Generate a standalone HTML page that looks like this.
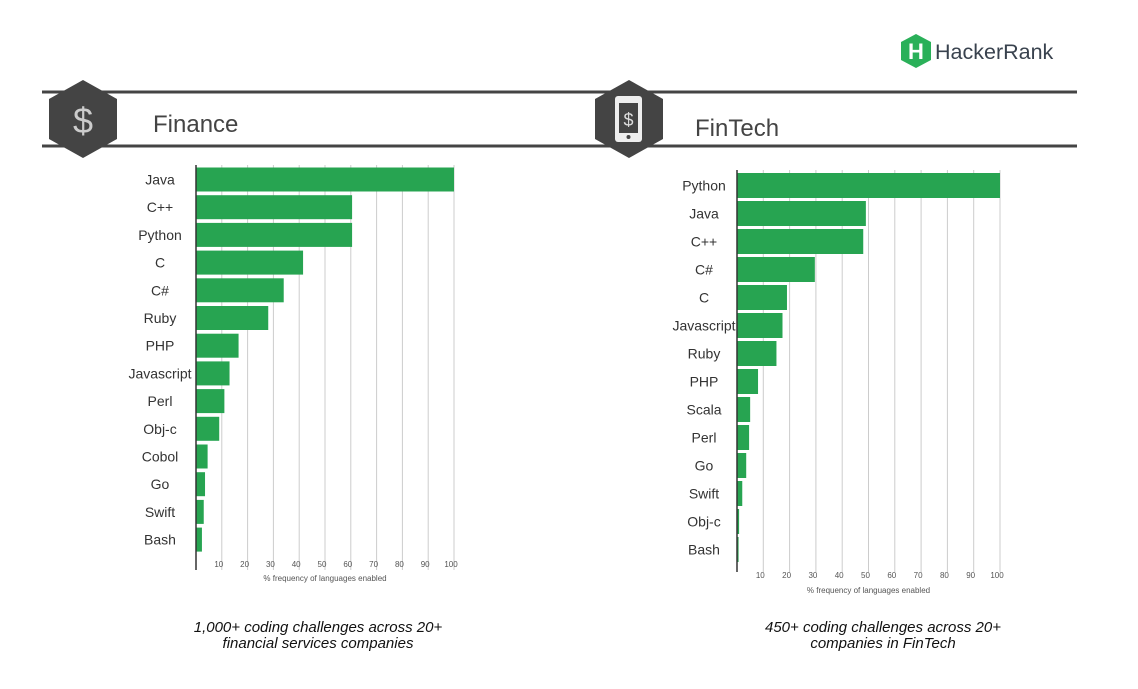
<!DOCTYPE html>
<html><head><meta charset="utf-8"><style>
html,body{margin:0;padding:0;background:#fff;}
svg{display:block;font-family:"Liberation Sans",sans-serif;}
</style></head><body>
<svg id="s" width="1138" height="689" viewBox="0 0 1138 689">
<g>
 <polygon points="916,34 931,42 931,60 916,68 901,60 901,42" fill="#2ab059"/>
 <text x="916" y="59" text-anchor="middle" font-size="22" font-weight="bold" fill="#fff">H</text>
 <text x="935" y="59" font-size="21.5" fill="#39424e">HackerRank</text>
</g>
<line x1="42" y1="92" x2="1077" y2="92" stroke="#444" stroke-width="3"/>
<line x1="42" y1="146" x2="1077" y2="146" stroke="#444" stroke-width="3"/>
<g>
 <polygon points="83,80 117,99 117,139 83,158 49,139 49,99" fill="#444"/>
 <text x="83" y="133" text-anchor="middle" font-size="36" fill="#ccc">$</text>
</g>
<text x="153" y="132" font-size="24" fill="#444">Finance</text>
<g>
 <polygon points="629,80 663,99 663,139 629,158 595,139 595,99" fill="#444"/>
 <rect x="615" y="96" width="27" height="46" rx="3" fill="#eee"/>
 <rect x="619" y="103" width="19" height="30" fill="#444"/>
 <circle cx="628.5" cy="137" r="2" fill="#444"/>
 <text x="628.5" y="126" text-anchor="middle" font-size="18" fill="#ddd">$</text>
</g>
<text x="695" y="136" font-size="24" fill="#444">FinTech</text>
<g id="c1"></g><g id="c2"></g>
<text x="318" y="632" text-anchor="middle" font-size="15" font-style="italic" fill="#111">1,000+ coding challenges across 20+</text>
<text x="318" y="648" text-anchor="middle" font-size="15" font-style="italic" fill="#111">financial services companies</text>
<text x="883" y="632" text-anchor="middle" font-size="15" font-style="italic" fill="#111">450+ coding  challenges across 20+</text>
<text x="883" y="648" text-anchor="middle" font-size="15" font-style="italic" fill="#111">companies in FinTech</text>
</svg>
<script>
const finCats=["Java","C++","Python","C","C#","Ruby","PHP","Javascript","Perl","Obj-c","Cobol","Go","Swift","Bash"];
const finVals=[100,60.5,60.5,41.5,34,28,16.5,13,11,9,4.5,3.5,3,2.3];
const ftCats=["Python","Java","C++","C#","C","Javascript","Ruby","PHP","Scala","Perl","Go","Swift","Obj-c","Bash"];
const ftVals=[100,49,48,29.6,19,17.3,15,8,5,4.6,3.5,2,0.8,0.6];
const tickVals=[10,20,30,40,50,60,70,80,90,100];
const NS="http://www.w3.org/2000/svg";
function mk(p,t,a){const e=document.createElementNS(NS,t);for(const k in a)e.setAttribute(k,a[k]);p.appendChild(e);return e;}
function chart(g,cats,vals,o){
 const x=v=>o.x0+v*(o.x100-o.x0)/100;
 const y=i=>o.y0+i*o.step;
 tickVals.forEach(t=>{
  const l=mk(g,"line",{x1:x(t),x2:x(t),y1:o.gTop,y2:o.gBot,stroke:"#ccc","stroke-width":1});
  
  
  const tx=mk(g,"text",{x:x(t)-3,y:o.tickY,"text-anchor":"middle","font-size":8,fill:"#555"});tx.textContent=t;
  
  
 });
 cats.forEach((c,i)=>{
  const r=mk(g,"rect",{x:o.x0,y:y(i)-o.bh/2,width:x(vals[i])-o.x0,height:o.bh,fill:"#27a451"});
  
  
  const t=mk(g,"text",{x:o.lx,y:y(i)+5,"text-anchor":"middle","font-size":14,fill:"#333"});t.textContent=c;
  
  
 });
 const a=mk(g,"line",{x1:o.x0,x2:o.x0,y1:o.gTop,y2:o.gBot,stroke:"#333","stroke-width":1.5});
 
 
 const at=mk(g,"text",{x:(o.x0+o.x100)/2,y:o.titleY,"text-anchor":"middle","font-size":8,fill:"#555"});at.textContent="% frequency of languages enabled";
 
 
}
chart(document.getElementById("c1"),finCats,finVals,{x0:196,x100:454,y0:179.5,step:27.7,bh:24,gTop:165,gBot:570,tickY:567,titleY:581,lx:160});
chart(document.getElementById("c2"),ftCats,ftVals,{x0:737,x100:1000,y0:185.5,step:28,bh:25,gTop:170,gBot:572,tickY:578,titleY:593,lx:704});
</script>
</body></html>
